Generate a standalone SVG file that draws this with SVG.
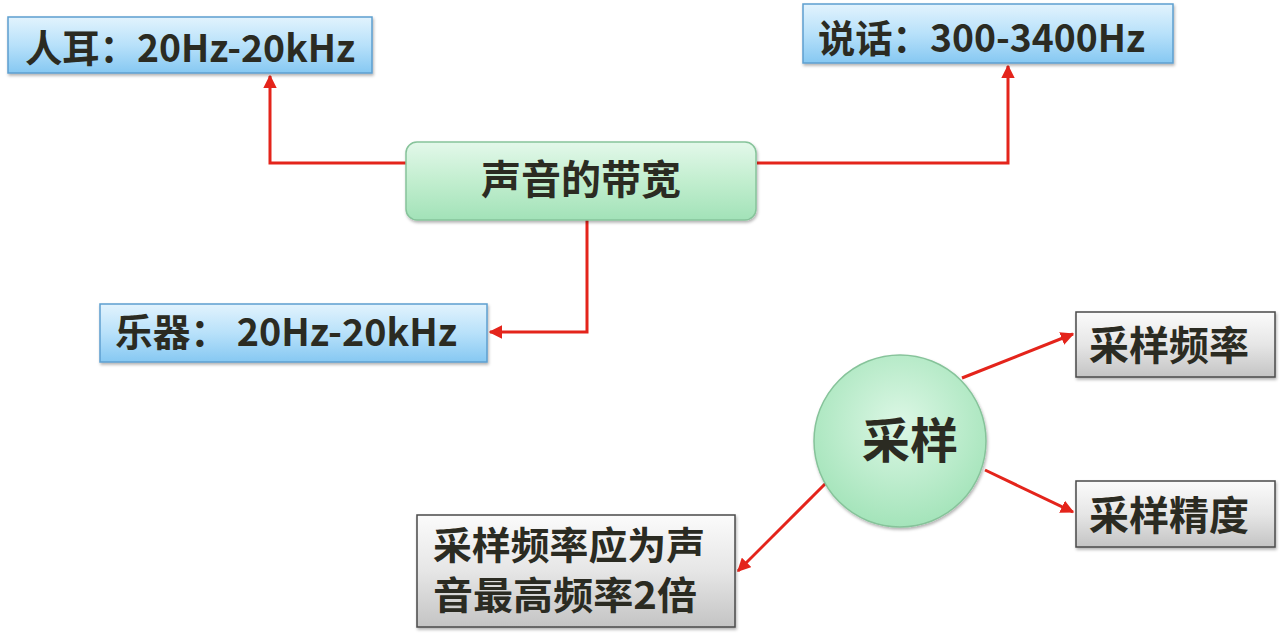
<svg xmlns="http://www.w3.org/2000/svg" width="1283" height="635" viewBox="0 0 1283 635">
<defs>
<linearGradient id="gBlue" x1="0" y1="0" x2="0" y2="1">
<stop offset="0" stop-color="#e2f3fd"/><stop offset="0.5" stop-color="#b8e1fa"/><stop offset="1" stop-color="#86c8f2"/>
</linearGradient>
<linearGradient id="gGreen" x1="0" y1="0" x2="0" y2="1">
<stop offset="0" stop-color="#e3f8ea"/><stop offset="0.5" stop-color="#c2eecf"/><stop offset="1" stop-color="#a2e2b8"/>
</linearGradient>
<radialGradient id="gCircle" cx="0.5" cy="0.4" r="0.6">
<stop offset="0" stop-color="#dcf7e5"/><stop offset="1" stop-color="#a4e4ba"/>
</radialGradient>
<linearGradient id="gGray" x1="0" y1="0" x2="0" y2="1">
<stop offset="0" stop-color="#fbfbfb"/><stop offset="0.5" stop-color="#e6e6e6"/><stop offset="1" stop-color="#c4c4c4"/>
</linearGradient>
<filter id="sh" x="-10%" y="-10%" width="120%" height="130%">
<feDropShadow dx="1" dy="2" stdDeviation="1.5" flood-color="#000" flood-opacity="0.3"/>
</filter>
<marker id="arr" viewBox="0 0 10 10" refX="9" refY="5" markerWidth="4.5" markerHeight="4.5" orient="auto-start-reverse">
<path d="M0,0 L10,5 L0,10 z" fill="#e4241b"/>
</marker>
</defs>
<style>
.t{font-family:"Noto Sans CJK SC","Noto Sans",sans-serif;font-weight:bold;fill:#2b2b22}
.blue{fill:url(#gBlue);stroke:#5d9fcf;stroke-width:1.5;filter:url(#sh)}
.green{fill:url(#gGreen);stroke:#86c39a;stroke-width:1.5;filter:url(#sh)}
.gray{fill:url(#gGray);stroke:#4a4a4a;stroke-width:1.5;filter:url(#sh)}
.c{fill:none;stroke:#e4241b;stroke-width:3;marker-end:url(#arr)}
</style>
<rect width="1283" height="635" fill="#ffffff"/>
<g id="connectors">
<polyline class="c" points="406,163 270,163 270,76"/>
<polyline class="c" points="757,163 1008,163 1008,66"/>
<polyline class="c" points="587,220 587,332 490,332"/>
<line class="c" x1="962" y1="378" x2="1073" y2="334"/>
<line class="c" x1="985" y1="470" x2="1073" y2="512"/>
<line class="c" x1="826" y1="483" x2="738" y2="571"/>
</g>
<g id="node-bandwidth">
<rect class="green" x="406" y="142" width="350" height="78" rx="11"/>
<text class="t" x="581" y="194" font-size="40" text-anchor="middle">声音的带宽</text>
</g>
<g id="node-ear">
<rect class="blue" x="8" y="17" width="364" height="56"/>
<text class="t" x="25" y="62" font-size="38" textLength="330" lengthAdjust="spacingAndGlyphs">人耳：20Hz-20kHz</text>
</g>
<g id="node-speech">
<rect class="blue" x="803" y="4" width="370" height="59"/>
<text class="t" x="818" y="52" font-size="38" textLength="327" lengthAdjust="spacingAndGlyphs">说话：300-3400Hz</text>
</g>
<g id="node-instrument">
<rect class="blue" x="100" y="304" width="387" height="58"/>
<text class="t" x="115" y="346" font-size="38" textLength="342" lengthAdjust="spacingAndGlyphs">乐器： 20Hz-20kHz</text>
</g>
<g id="node-sampling">
<circle fill="url(#gCircle)" stroke="#86c39a" stroke-width="1.5" filter="url(#sh)" cx="900" cy="441" r="86"/>
<text class="t" x="910" y="458" font-size="48" text-anchor="middle">采样</text>
</g>
<g id="node-rate">
<rect class="gray" x="1076" y="312" width="199" height="65"/>
<text class="t" x="1169" y="360" font-size="40" text-anchor="middle">采样频率</text>
</g>
<g id="node-precision">
<rect class="gray" x="1076" y="481" width="199" height="66"/>
<text class="t" x="1169" y="530" font-size="40" text-anchor="middle">采样精度</text>
</g>
<g id="node-nyquist">
<rect class="gray" x="417" y="515" width="318" height="112"/>
<text class="t" x="433" y="559" font-size="38" textLength="272" lengthAdjust="spacingAndGlyphs">采样频率应为声</text>
<text class="t" x="433" y="609" font-size="38" textLength="264" lengthAdjust="spacingAndGlyphs">音最高频率2倍</text>
</g>
</svg>
